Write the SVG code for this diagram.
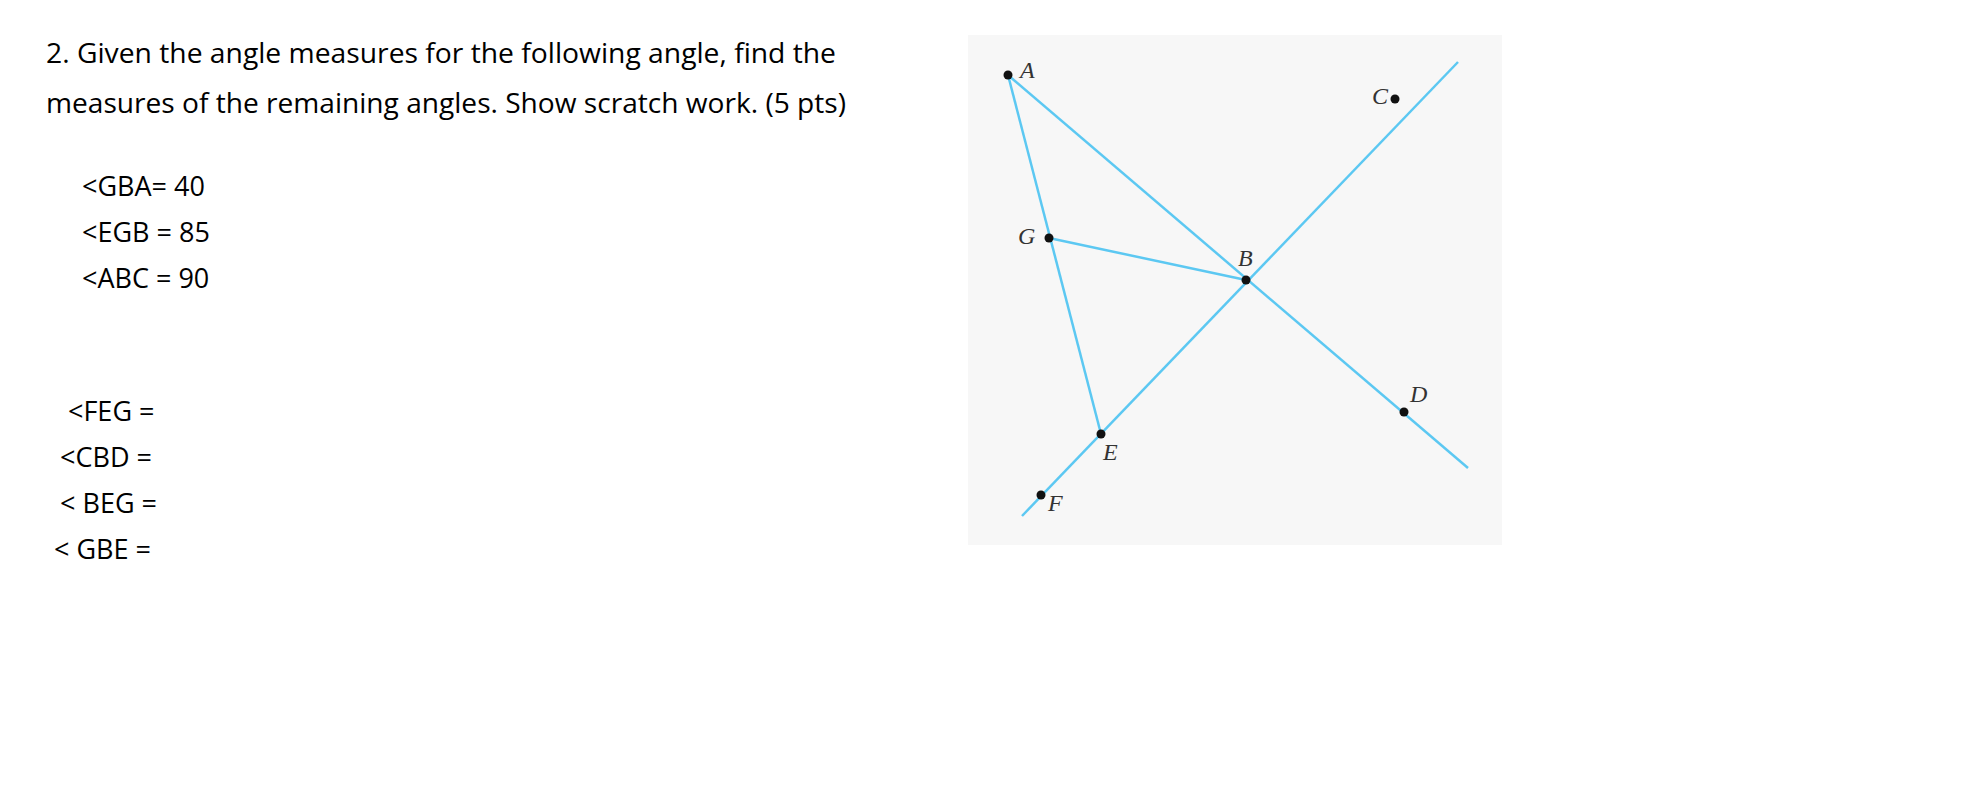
<svg xmlns="http://www.w3.org/2000/svg" width="1962" height="786" viewBox="0 0 1962 786">
<style>
.t{font-family:"Open Sans","Liberation Sans",sans-serif;font-size:27px;fill:#000}
.l{font-family:"Liberation Serif",serif;font-style:italic;font-size:24px;fill:#333}
.ln{stroke:#5cc8f2;stroke-width:2.5;fill:none}
.d{fill:#111}
</style>
<rect width="1962" height="786" fill="#fff"/>
<g id="text">
<text class="t" x="46" y="63" textLength="790" lengthAdjust="spacingAndGlyphs">2. Given the angle measures for the following angle, find the</text>
<text class="t" x="46" y="113" textLength="800" lengthAdjust="spacingAndGlyphs">measures of the remaining angles.  Show scratch work. (5 pts)</text>
<text class="t" x="82" y="196">&lt;GBA= 40</text>
<text class="t" x="82" y="242">&lt;EGB = 85</text>
<text class="t" x="82" y="288">&lt;ABC = 90</text>
<text class="t" x="68" y="421">&lt;FEG =</text>
<text class="t" x="60" y="467">&lt;CBD =</text>
<text class="t" x="60" y="513">&lt; BEG =</text>
<text class="t" x="54" y="559">&lt; GBE =</text>
</g>
<rect id="panel" x="968" y="35" width="534" height="510" fill="#f7f7f7"/>
<g id="connectors">
<line class="ln" x1="1008" y1="75" x2="1468" y2="468"/>
<line class="ln" x1="1022" y1="516" x2="1458" y2="62"/>
<line class="ln" x1="1008" y1="75" x2="1101" y2="434"/>
<line class="ln" x1="1049" y1="238" x2="1246" y2="280"/>
</g>
<g id="A"><circle class="d" cx="1008" cy="75" r="4.5"/><text class="l" x="1020" y="78">A</text></g>
<g id="C"><circle class="d" cx="1395" cy="99" r="4.5"/><text class="l" x="1372" y="104">C</text></g>
<g id="G"><circle class="d" cx="1049" cy="238" r="4.5"/><text class="l" x="1018" y="244">G</text></g>
<g id="B"><circle class="d" cx="1246" cy="280" r="4.5"/><text class="l" x="1238" y="266">B</text></g>
<g id="D"><circle class="d" cx="1404" cy="412" r="4.5"/><text class="l" x="1410" y="402">D</text></g>
<g id="E"><circle class="d" cx="1101" cy="434" r="4.5"/><text class="l" x="1103" y="460">E</text></g>
<g id="F"><circle class="d" cx="1041" cy="495" r="4.5"/><text class="l" x="1048" y="511">F</text></g>
</svg>
